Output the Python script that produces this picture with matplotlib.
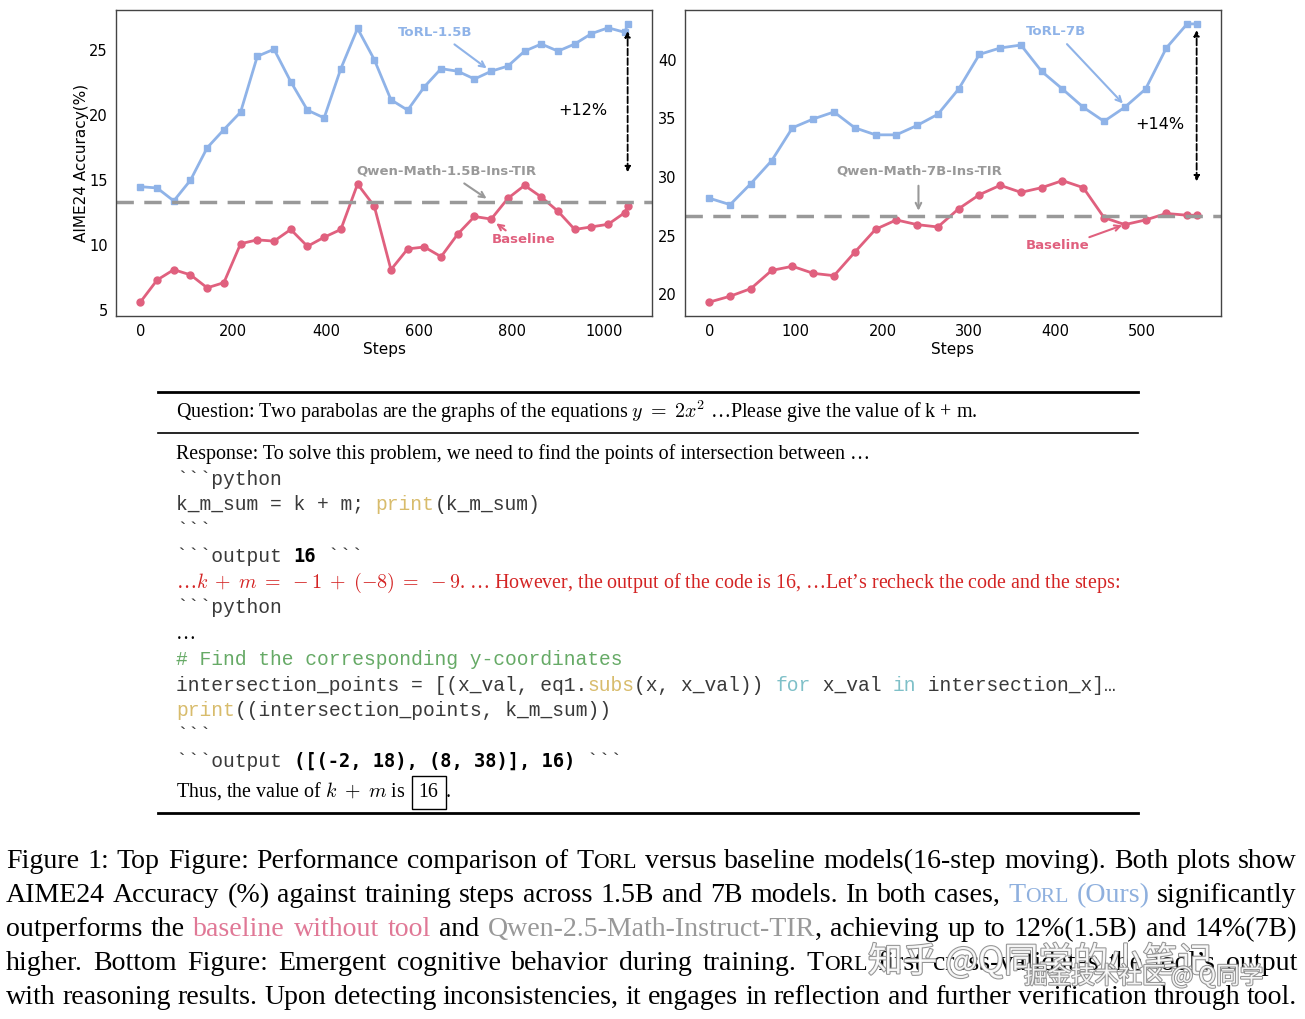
import matplotlib
matplotlib.use('Agg')
import matplotlib.pyplot as plt
import matplotlib.patheffects as pe

plt.rcParams['mathtext.fontset'] = 'cm'

W, H = 1305, 1019
BLUE = '#8fb3e8'
PINK = '#e0607e'
GRAY = '#999999'

# ---- data ----
steps_15b = [0, 36, 72, 108, 144, 180, 216, 252, 288, 324, 360, 396, 432, 468, 504,
             540, 576, 612, 648, 684, 720, 756, 792, 828, 864, 900, 936, 972, 1008, 1044, 1050]
torl_15b = [14.5, 14.4, 13.4, 15.0, 17.5, 18.9, 20.25, 24.55, 25.1, 22.6, 20.4, 19.8, 23.6,
            26.7, 24.3, 21.2, 20.4, 22.2, 23.6, 23.4, 22.8, 23.4, 23.8, 24.95, 25.5, 24.95,
            25.5, 26.3, 26.75, 26.4, 27.05]
base_15b = [5.6, 7.3, 8.1, 7.7, 6.7, 7.1, 10.1, 10.4, 10.3, 11.2, 9.9, 10.6, 11.2, 14.7,
            13.0, 8.1, 9.7, 9.85, 9.1, 10.85, 12.2, 12.0, 13.6, 14.6, 13.7, 12.6, 11.2,
            11.4, 11.6, 12.5, 13.0]
qwen_15b = 13.35

steps_7b = [0, 24, 48, 72, 96, 120, 144, 168, 192, 216, 240, 264, 288, 312, 336, 360,
            384, 408, 432, 456, 480, 504, 528, 552, 563]
torl_7b = [28.2, 27.65, 29.45, 31.4, 34.2, 34.95, 35.55, 34.2, 33.6, 33.6, 34.4, 35.35,
           37.5, 40.45, 41.0, 41.25, 39.0, 37.5, 35.95, 34.75, 35.95, 37.5, 41.0, 43.05, 43.05]
base_7b = [19.35, 19.85, 20.5, 22.05, 22.4, 21.8, 21.6, 23.6, 25.55, 26.35, 25.95, 25.75,
           27.3, 28.5, 29.3, 28.7, 29.1, 29.7, 29.1, 26.55, 25.95, 26.35, 26.9, 26.75, 26.75]
qwen_7b = 26.68

fig = plt.figure(figsize=(W / 100, H / 100), dpi=100)
renderer = fig.canvas.get_renderer()


def fx(x):
    return x / W


def fy(y):
    return 1 - y / H


def draw_panel(rect, steps, torl, base, qwen, labels, gain):
    ax = fig.add_axes(rect)
    ax.plot(steps, torl, color=BLUE, lw=2, marker='s', ms=5)
    ax.plot(steps, base, color=PINK, lw=2, marker='o', ms=5)
    ax.axhline(qwen, color=GRAY, lw=2.5, ls=(0, (5, 3)))
    for sp in ax.spines.values():
        sp.set_color('#444444')
        sp.set_linewidth(1)
    ax.tick_params(length=0, pad=6, labelsize=10.5)
    ax.set_xlabel('Steps', fontsize=11, labelpad=2)
    for text, col, xy, xytext, tail in labels:
        ax.text(xytext[0], xytext[1], text, color=col, fontsize=9.5, fontweight='bold',
                ha='center', va='center')
        ax.annotate('', xy=xy, xytext=tail,
                    arrowprops=dict(arrowstyle='->', color=col, lw=1.5))
    gx, gtop, gbot, tx, ty, gtext = gain
    ax.annotate('', xy=(gx, gtop), xytext=(gx, gbot),
                arrowprops=dict(arrowstyle='<|-|>', color='black', lw=1.3, ls='--',
                                mutation_scale=8))
    ax.text(tx, ty, gtext, fontsize=11.5, ha='center', va='center')
    return ax


ax1 = draw_panel([fx(116), fy(316), 536 / W, 306 / H], steps_15b, torl_15b, base_15b, qwen_15b,
                 [('ToRL-1.5B', BLUE, (751, 23.5), (635, 26.4), (672, 25.6)),
                  ('Qwen-Math-1.5B-Ins-TIR', GRAY, (751, 13.46), (660, 15.7), (693, 14.87)),
                  ('Baseline', PINK, (762, 11.8), (825, 10.4), (792, 11.0))],
                 (1050, 26.7, 15.4, 953, 20.4, '+12%'))
ax1.set_xticks([0, 200, 400, 600, 800, 1000])
ax1.set_yticks([5, 10, 15, 20, 25])
ax1.set_ylabel('AIME24 Accuracy(%)', fontsize=11, labelpad=0)

ax2 = draw_panel([fx(685), fy(316), 536 / W, 306 / H], steps_7b, torl_7b, base_7b, qwen_7b,
                 [('ToRL-7B', BLUE, (480, 36.1), (400, 42.4), (411, 41.5)),
                  ('Qwen-Math-7B-Ins-TIR', GRAY, (241.6, 26.9), (243, 30.5), (241.6, 29.5)),
                  ('Baseline', PINK, (480, 25.97), (402, 24.2), (436, 24.8))],
                 (563, 42.75, 29.4, 521, 34.5, '+14%'))
ax2.set_xticks([0, 100, 200, 300, 400, 500])
ax2.set_yticks([20, 25, 30, 35, 40])

# ---- text helpers ----
SERIF = 'Liberation Serif'
MONO = 'Liberation Mono'


def width(s, **kw):
    t = fig.text(0, 0, 'x' + s + 'x', **kw)
    w = t.get_window_extent(renderer).width
    t.remove()
    t = fig.text(0, 0, 'xx', **kw)
    w -= t.get_window_extent(renderer).width
    t.remove()
    return w


def put_runs(x, y, runs):
    for s, kw in runs:
        fig.text(fx(x), fy(y), s, ha='left', va='baseline', **kw)
        x += width(s, **kw)
    return x


# ---- example box ----
for yy, lw in [(392, 2), (433, 1.2), (813, 2)]:
    fig.add_artist(plt.Line2D([fx(158), fx(1138)], [fy(yy), fy(yy)], color='black', lw=lw))

TS = 14.4
MS = 14.1
ts = dict(family=SERIF, fontsize=TS, color='black')
red = dict(family=SERIF, fontsize=TS, color='#d42424')
code = dict(family=MONO, fontsize=MS, color='#3a3a3a')
gold = dict(family=MONO, fontsize=MS, color='#d8bc6c')
teal = dict(family=MONO, fontsize=MS, color='#7fc0c8')
green = dict(family=MONO, fontsize=MS, color='#66aa66')
bold = dict(family='DejaVu Sans Mono', fontsize=13.5, color='black', fontweight='bold')

X0 = 176
put_runs(X0, 418, [('Question: Two parabolas are the graphs of the equations $y\\;=\\;2x^2$ '
                    '\u2026Please give the value of k + m.', ts)])
put_runs(X0, 459, [('Response: To solve this problem, we need to find the points of '
                    'intersection between \u2026', ts)])
put_runs(X0, 485, [('```python', code)])
put_runs(X0, 510, [('k_m_sum = k + m; ', code), ('print', gold), ('(k_m_sum)', code)])
put_runs(X0, 536, [('```', code)])
put_runs(X0, 562, [('```output ', code), ('16', bold), (' ```', code)])
put_runs(X0, 588, [('\u2026$k\\;+\\;m\\;=\\;-1\\;+\\;(-8)\\;=\\;-9$. \u2026 However, the output '
                    'of the code is 16, \u2026Let\u2019s recheck the code and the steps:', red)])
put_runs(X0, 613, [('```python', code)])
put_runs(X0, 639, [('\u2026', ts)])
put_runs(X0, 665, [('# Find the corresponding y-coordinates', green)])
put_runs(X0, 691, [('intersection_points = [(x_val, eq1.', code), ('subs', gold),
                   ('(x, x_val)) ', code), ('for', teal), (' x_val ', code), ('in', teal),
                   (' intersection_x]\u2026', code)])
put_runs(X0, 716, [('print', gold), ('((intersection_points, k_m_sum))', code)])
put_runs(X0, 741, [('```', code)])
put_runs(X0, 767, [('```output ', code), ('([(-2, 18), (8, 38)], 16)', bold), (' ```', code)])
xe = put_runs(X0, 797, [('Thus, the value of $k\\;+\\;m$ is ', ts)])
fig.text(fx(xe + 8), fy(797), '16', ha='left', va='baseline',
         bbox=dict(boxstyle='square,pad=0.35', fc='none', ec='black', lw=1), **ts)
put_runs(xe + 8 + width('16', **ts) + 7, 797, [('.', ts)])

# ---- caption, justified ----
CS = 20.1
cap = dict(family=SERIF, fontsize=CS, color='black')
capb = dict(family=SERIF, fontsize=CS, color='#8fb0de')
capp = dict(family=SERIF, fontsize=CS, color='#e07896')
capg = dict(family=SERIF, fontsize=CS, color='#999999')


def torl(style):
    small = dict(style, fontsize=CS * 0.78)
    return [('T', style), ('ORL', small)]


def words(s, style):
    return [[(w, style)] for w in s.split()]


cap_lines = [
    words('Figure 1: Top Figure: Performance comparison of', cap) + [torl(cap)]
    + words('versus baseline models(16-step moving). Both plots show', cap),
    words('AIME24 Accuracy (%) against training steps across 1.5B and 7B models. In both cases,', cap)
    + [torl(capb), [('(Ours)', capb)], [('significantly', cap)]],
    words('outperforms the', cap) + words('baseline without tool', capp) + [[('and', cap)],
    [('Qwen-2.5-Math-Instruct-TIR', capg), (',', cap)]]
    + words('achieving up to 12%(1.5B) and 14%(7B)', cap),
    words('higher. Bottom Figure: Emergent cognitive behavior during training.', cap) + [torl(cap)]
    + words('first cross-validates the tool\u2019s output', cap),
    words('with reasoning results. Upon detecting inconsistencies, it engages in reflection '
          'and further verification through tool.', cap),
]

for i, line in enumerate(cap_lines):
    y = 868 + 34 * i
    ws = [sum(width(s, **kw) for s, kw in wd) for wd in line]
    gap = (1297 - 6 - sum(ws)) / (len(line) - 1)
    x = 6
    for wd, wdw in zip(line, ws):
        put_runs(x, y, wd)
        x += wdw + gap

# watermark
stroke = [pe.withStroke(linewidth=1.5, foreground='#888888')]
fig.text(fx(868), fy(962), '知乎 @Q同学的小笔记', family=['Noto Sans CJK SC', 'DejaVu Sans'],
         fontsize=25, color='white', alpha=0.9, va='center', ha='left', path_effects=stroke)
fig.text(fx(1024), fy(976), '掘金技术社区 @ Q同学', family=['Noto Sans CJK SC', 'DejaVu Sans'],
         fontsize=17, color='white', alpha=0.9, va='center', ha='left', path_effects=stroke)

fig.savefig('out.png', dpi=100)
